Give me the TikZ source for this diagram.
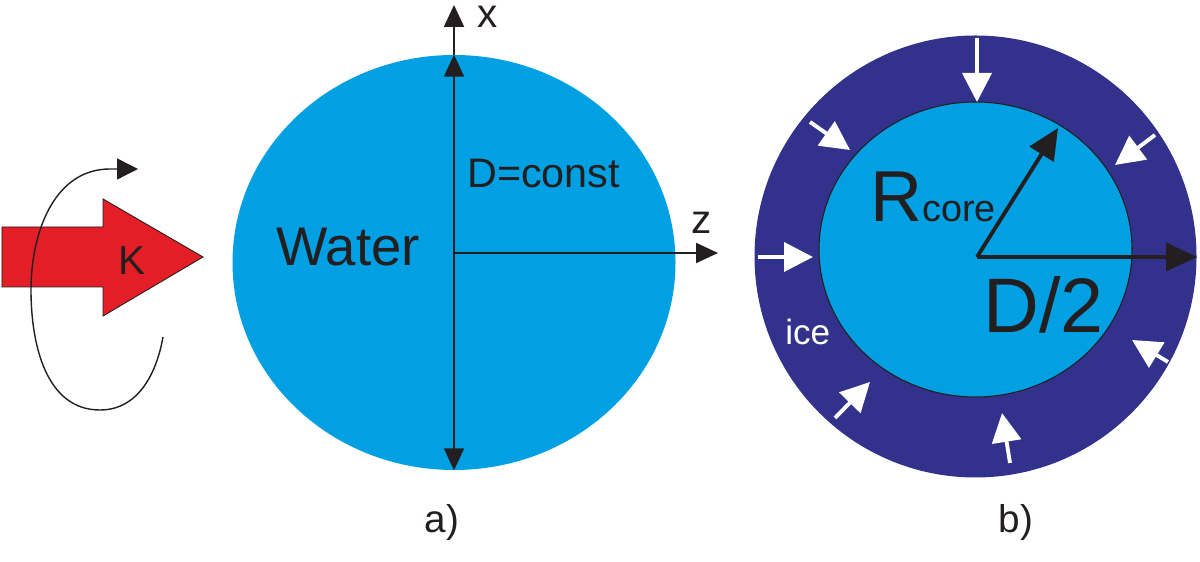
\documentclass[tikz,border=0pt]{standalone}
\usepackage{fontspec}
\setmainfont{Liberation Sans}
\usetikzlibrary{arrows.meta,shapes.geometric}
\definecolor{water}{RGB}{0,160,227}
\definecolor{ice}{RGB}{50,49,140}
\definecolor{kred}{RGB}{228,30,38}
\definecolor{ink}{RGB}{35,31,32}
\newcommand{\fs}[1]{\fontsize{#1}{#1}\selectfont}
\tikzset{
  axis/.style={ink, line width=1.1pt, -{Triangle[length=4.4mm,width=4mm]}},
  dimline/.style={ink, line width=1.1pt, {Triangle[length=4.4mm,width=4mm]}-{Triangle[length=4.4mm,width=4mm]}},
  radarrow/.style={ink, line width=2.2pt, -{Triangle[length=6.2mm,width=5.6mm]}},
  press/.style={white, line width=2.2pt, -{Triangle[length=5.8mm,width=5.8mm]}},
  spin/.style={ink, line width=0.8pt, -{Triangle[length=4.2mm,width=4.2mm]}},
  lbl/.style={text=ink, inner sep=0pt},
}
\begin{document}
\begin{tikzpicture}
\useasboundingbox (0,0) rectangle (24,11.24);
% a) water drop
\node[ellipse, fill=water, minimum width=8.86cm, minimum height=8.3cm, inner sep=0pt] (drop) at (9.08,5.99) {};
\coordinate (xtip) at (9.08,11.14);
\coordinate (zo) at (9.08,6.18);
\coordinate (ztip) at (14.36,6.18);
\draw[axis] (drop.north) -- (xtip);
\draw[dimline] (drop.north) -- (drop.south);
\draw[axis] (zo) -- (ztip);
\node[lbl, font=\fs{23}] (xl) at (9.76,10.9) {x};
\node[lbl, font=\fs{23}] (zl) at (14.04,6.78) {z};
\node[lbl, anchor=base west, font=\fs{23.5}] (dc) at (9.34,7.48) {D=const};
\node[lbl, anchor=base west, font=\fs{31}] (wl) at (5.52,5.92) {Water};
% K vector and rotation
\draw[ink, line width=0.5pt, fill=kred] (0.04,5.5) -- (2.06,5.5) -- (2.06,4.92) -- (4.06,6.1)
  -- (2.06,7.26) -- (2.06,6.7) -- (0.04,6.7) -- cycle;
\node[lbl, font=\fs{23}] (k) at (2.63,6.02) {K};
\coordinate (r0) at (3.26,4.5);
\coordinate (rb) at (2.0,3.04);
\coordinate (rl) at (0.62,5.44);
\coordinate (rt) at (2.2,7.86);
\coordinate (rtip) at (2.76,7.86);
\draw[spin] (r0) to[out=-100,in=0] (rb) to[out=180,in=-90] (rl) to[out=90,in=180] (rt) -- (rtip);
\node[lbl, font=\fs{22}] (la) at (8.84,0.8) {a)};
% b) ice shell
\node[circle, fill=ice, minimum size=8.84cm, inner sep=0pt] (shell) at (19.51,6.11) {};
\node[ellipse, fill=water, draw=ink, line width=0.6pt, minimum width=6.26cm, minimum height=5.9cm, inner sep=0pt] (core) at (19.51,6.25) {};
\foreach \n/\sx/\sy/\tx/\ty in {1/19.54/10.48/19.54/9.2, 2/16.2/8.8/17.0/8.24, 3/23.1/8.54/22.3/7.94,
    4/15.16/6.1/16.26/6.1, 5/23.36/4.0/22.64/4.44, 6/16.7/2.88/17.4/3.6, 7/20.2/1.98/20.04/2.98} {
  \coordinate (p\n) at (\sx,\sy);
  \coordinate (q\n) at (\tx,\ty);
  \draw[press] (p\n) -- (q\n);
}
\coordinate (c) at (19.54,6.1);
\coordinate (rctip) at (21.16,8.68);
\coordinate (dtip) at (23.94,6.1);
\draw[radarrow] (c) -- (rctip);
\draw[radarrow] (c) -- (dtip);
\node[lbl, anchor=base west, font=\fs{41}] (rc) at (17.4,6.8) {R{\fs{21.5}core}};
\node[lbl, anchor=base west, font=\fs{44}] (half) at (19.66,4.58) {D/2};
\node[anchor=base west, inner sep=0pt, text=white, font=\fs{20}] (icel) at (15.7,4.34) {ice};
\node[lbl, font=\fs{22}] (lb) at (20.32,0.8) {b)};
\end{tikzpicture}
\end{document}
